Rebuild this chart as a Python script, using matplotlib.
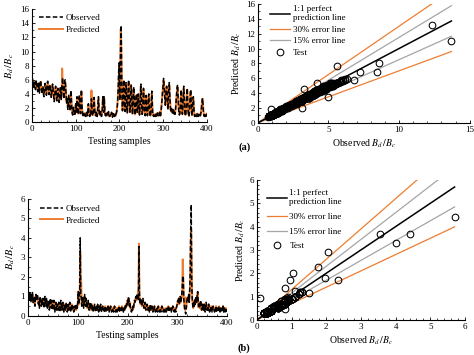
import numpy as np
import matplotlib
matplotlib.use("Agg")
import matplotlib.pyplot as plt
from matplotlib.ticker import MultipleLocator
from matplotlib.lines import Line2D

plt.rcParams['font.family'] = ['Liberation Serif', 'DejaVu Serif']
plt.rcParams['mathtext.fontset'] = 'stix'
plt.rcParams['font.size'] = 6.5

# ---- dataset (a): 400 testing samples ----
obs_a = [
    6.2, 5.8, 5.1, 5.6, 4.9, 5.3, 5.7, 4.6, 5.2, 5.9, 5.4, 4.8, 4.3, 5.0, 5.5, 4.7, 4.1, 5.2, 5.8, 5.9,
    5.3, 4.6, 4.0, 4.4, 5.1, 4.2, 3.6, 4.3, 4.9, 5.5, 5.1, 4.4, 3.8, 4.7, 5.6, 5.8, 5.2, 4.5, 3.9, 4.6,
    5.3, 5.0, 4.2, 3.5, 4.1, 4.8, 5.4, 4.9, 4.0, 3.3, 2.9, 3.8, 4.6, 5.1, 4.4, 3.6, 3.0, 3.9, 4.8, 4.2,
    3.4, 2.8, 3.6, 4.5, 5.0, 4.1, 3.2, 4.8, 5.6, 6.3, 5.2, 4.1, 3.3, 4.6, 5.9, 6.0, 4.8, 3.6, 2.7, 3.5,
    2.6, 1.8, 2.9, 3.8, 3.1, 2.2, 1.6, 3.4, 4.5, 3.2, 2.0, 1.3, 1.0, 1.4, 2.1, 1.7, 1.1, 0.9, 1.5, 2.6,
    2.0, 1.3, 3.6, 2.4, 1.5, 1.1, 2.3, 3.8, 3.2, 1.8, 1.2, 2.9, 4.6, 3.1, 1.6, 1.0, 0.8, 1.2, 1.0, 0.9,
    1.3, 1.1, 0.8, 1.0, 1.4, 1.2, 0.9, 1.7, 2.6, 1.5, 1.0, 0.8, 1.1, 0.9, 1.8, 3.3, 2.0, 1.1, 0.9, 1.2,
    2.4, 3.5, 2.2, 1.3, 0.9, 1.0, 1.4, 1.1, 0.8, 1.6, 2.8, 3.6, 2.1, 1.2, 0.9, 1.1, 1.5, 1.0, 0.8, 1.3,
    2.0, 3.6, 2.7, 1.4, 3.6, 2.3, 1.2, 0.9, 1.1, 0.8, 1.0, 1.3, 0.9, 1.1, 1.5, 1.2, 0.8, 0.9, 1.0, 0.8,
    1.1, 1.4, 1.0, 0.7, 0.9, 1.2, 1.0, 0.8, 0.9, 1.1, 0.8, 1.0, 1.3, 1.6, 2.2, 3.0, 4.5, 6.8, 8.4, 5.3,
    3.1, 8.6, 12.3, 13.7, 7.2, 3.0, 1.6, 2.5, 4.1, 6.0, 4.3, 2.2, 1.5, 3.4, 5.6, 4.2, 2.0, 1.3, 2.8, 4.8,
    6.0, 4.1, 2.3, 1.4, 2.6, 4.2, 5.2, 3.6, 1.8, 1.1, 2.7, 4.6, 5.0, 3.2, 1.6, 1.0, 1.9, 3.5, 4.0, 2.5,
    1.3, 2.4, 4.0, 2.8, 1.5, 1.0, 2.1, 4.1, 5.4, 3.9, 2.0, 1.1, 1.8, 3.2, 4.8, 3.4, 1.6, 1.0, 0.9, 2.2,
    3.8, 2.5, 1.3, 0.9, 1.7, 3.3, 4.0, 2.8, 1.4, 1.0, 0.8, 1.6, 3.1, 4.4, 2.6, 1.2, 0.9, 1.0, 0.8, 1.1,
    0.9, 1.0, 0.8, 1.2, 1.0, 0.9, 1.3, 1.1, 0.8, 0.9, 1.0, 1.4, 1.2, 0.9, 1.5, 2.1, 2.9, 3.8, 4.6, 5.5,
    6.2, 5.3, 4.1, 3.2, 2.4, 3.6, 4.8, 5.1, 3.9, 2.6, 1.8, 3.3, 4.9, 5.6, 4.0, 2.5, 1.7, 1.4, 1.9, 1.6,
    1.3, 1.8, 1.5, 1.2, 1.7, 1.4, 1.1, 1.6, 2.3, 3.4, 4.2, 5.0, 5.3, 3.8, 2.2, 1.3, 1.0, 1.2, 1.8, 3.1,
    4.6, 3.0, 1.7, 1.1, 2.4, 4.0, 5.1, 3.6, 1.8, 1.0, 0.9, 1.3, 2.6, 4.1, 4.8, 3.2, 1.6, 1.0, 0.8, 1.5,
    2.8, 4.0, 4.6, 3.1, 1.5, 0.9, 1.9, 3.3, 3.6, 2.2, 1.2, 0.8, 1.0, 0.9, 1.1, 0.8, 0.9, 1.2, 1.0, 0.8,
    0.9, 1.1, 0.8, 1.0, 0.9, 1.2, 1.6, 2.3, 3.0, 3.4, 2.6, 1.5, 1.0, 0.8, 0.9, 1.1, 0.8, 1.0, 0.9, 1.2,
]
pred_a = [
    5.8, 5.5, 5.3, 5.3, 5.1, 5.0, 5.4, 4.9, 5.0, 5.6, 5.2, 5.0, 4.6, 4.8, 5.2, 4.9, 4.4, 5.0, 5.5, 5.7,
    5.1, 4.8, 4.3, 4.5, 4.9, 4.4, 3.9, 4.2, 4.7, 5.3, 5.2, 4.5, 4.0, 4.6, 5.3, 5.5, 5.3, 4.7, 4.1, 4.5,
    5.1, 4.9, 4.4, 3.7, 4.0, 4.6, 5.2, 5.0, 4.2, 3.5, 3.1, 3.7, 4.4, 4.9, 4.5, 3.8, 3.2, 3.8, 4.6, 4.3,
    3.6, 3.0, 3.5, 4.3, 4.8, 4.3, 3.4, 4.6, 7.6, 5.9, 5.3, 4.3, 3.5, 4.4, 5.6, 5.7, 4.9, 3.8, 2.9, 3.4,
    2.8, 2.0, 2.8, 3.6, 3.2, 2.4, 1.8, 3.3, 4.3, 3.3, 2.2, 1.4, 1.1, 1.5, 2.0, 1.8, 1.2, 1.9, 1.5, 2.5,
    2.1, 1.4, 3.4, 2.5, 1.6, 1.2, 2.2, 3.6, 3.3, 1.9, 1.3, 2.8, 4.3, 2.0, 1.7, 1.1, 0.9, 1.2, 1.1, 1.0,
    1.3, 1.2, 0.9, 1.0, 1.3, 1.2, 1.0, 1.6, 2.5, 1.6, 1.1, 0.9, 1.1, 1.0, 1.9, 4.5, 2.1, 1.2, 1.0, 1.2,
    2.3, 3.3, 2.3, 1.4, 1.0, 1.0, 1.3, 1.1, 0.9, 1.7, 2.7, 3.4, 2.2, 1.3, 1.0, 1.1, 1.4, 1.1, 0.9, 1.3,
    2.1, 3.4, 2.8, 1.5, 3.4, 2.4, 1.3, 1.0, 1.1, 0.9, 1.0, 1.3, 1.0, 1.1, 1.4, 1.2, 0.9, 0.9, 1.0, 0.9,
    1.1, 1.3, 1.0, 0.8, 0.9, 1.2, 1.0, 0.9, 0.9, 1.1, 0.9, 1.0, 1.3, 1.7, 2.3, 3.1, 4.4, 5.8, 6.9, 5.1,
    3.3, 8.0, 13.2, 11.0, 6.8, 3.2, 1.7, 2.6, 4.0, 5.7, 4.4, 2.3, 1.6, 3.3, 5.3, 4.3, 2.1, 1.4, 2.9, 4.6,
    5.6, 4.2, 2.4, 1.5, 2.7, 5.3, 5.0, 3.7, 1.9, 1.2, 2.6, 4.4, 3.5, 3.3, 1.7, 1.1, 2.0, 3.4, 3.8, 2.6,
    1.4, 2.5, 3.8, 2.9, 1.6, 1.1, 2.2, 3.9, 5.1, 4.0, 2.1, 1.2, 1.9, 3.1, 4.6, 3.5, 1.7, 1.1, 1.0, 2.3,
    3.6, 2.6, 1.4, 1.0, 1.8, 3.2, 3.8, 2.9, 1.5, 1.1, 0.9, 1.7, 3.0, 4.1, 2.7, 1.3, 1.0, 1.0, 0.9, 1.1,
    1.0, 1.0, 0.9, 1.2, 1.1, 1.0, 1.3, 1.1, 0.9, 1.0, 1.0, 1.4, 1.2, 1.0, 1.6, 2.2, 3.0, 3.9, 4.5, 5.3,
    5.9, 5.4, 4.2, 3.3, 2.5, 3.5, 4.6, 5.0, 4.0, 2.7, 1.9, 3.2, 4.7, 5.3, 4.1, 2.6, 1.8, 1.5, 1.9, 1.7,
    1.4, 1.7, 1.6, 1.3, 1.6, 1.5, 1.2, 1.6, 2.4, 3.3, 4.0, 4.8, 5.0, 3.9, 2.3, 1.4, 1.1, 1.2, 1.9, 3.0,
    4.4, 3.1, 1.8, 1.2, 2.5, 3.9, 4.8, 3.7, 1.9, 1.1, 1.0, 1.3, 2.7, 4.0, 4.6, 3.3, 1.7, 1.1, 0.9, 1.5,
    2.9, 3.8, 4.4, 3.2, 1.6, 1.0, 2.0, 3.2, 3.4, 2.3, 1.3, 0.9, 1.0, 1.0, 1.1, 0.9, 0.9, 1.2, 1.0, 0.9,
    1.0, 1.1, 0.9, 1.0, 1.0, 1.2, 1.7, 2.4, 3.1, 3.3, 2.7, 1.6, 1.1, 0.9, 1.0, 1.1, 0.9, 1.0, 1.0, 1.2,
]

# ---- dataset (b): 400 testing samples ----
obs_b = [
    0.9, 1.1, 0.8, 1.2, 1.0, 0.7, 1.1, 0.8, 1.2, 0.9, 0.6, 1.0, 0.7, 0.5, 0.9, 1.1, 0.8, 1.1, 1.1, 0.9,
    0.6, 0.8, 0.4, 0.9, 1.0, 0.7, 0.5, 0.8, 0.6, 0.9, 0.7, 0.4, 0.8, 1.0, 0.6, 0.5, 0.9, 0.7, 0.4, 0.6,
    0.8, 0.5, 0.3, 0.7, 0.9, 0.6, 0.4, 0.8, 0.5, 0.3, 0.6, 0.8, 0.4, 0.2, 0.5, 0.7, 0.4, 0.3, 0.6, 0.5,
    0.3, 0.7, 0.4, 0.2, 0.6, 0.8, 0.5, 0.3, 0.5, 0.7, 0.4, 0.2, 0.5, 0.6, 0.3, 0.4, 0.7, 0.5, 0.2, 0.4,
    0.6, 0.3, 0.5, 0.7, 0.4, 0.2, 0.4, 0.6, 0.3, 0.5, 0.4, 0.2, 0.3, 0.5, 0.4, 0.6, 0.3, 0.5, 0.4, 0.7,
    1.25, 0.6, 0.9, 1.3, 4.0, 1.05, 0.95, 0.5, 0.7, 1.0, 0.6, 0.4, 0.8, 1.1, 0.7, 0.5, 0.9, 0.6, 0.4, 0.7,
    0.8, 0.5, 0.3, 0.6, 0.4, 0.7, 0.3, 0.5, 0.6, 0.3, 0.2, 0.5, 0.4, 0.6, 0.3, 0.2, 0.4, 0.5, 0.3, 0.6,
    0.4, 0.2, 0.5, 0.3, 0.4, 0.6, 0.3, 0.2, 0.4, 0.5, 0.3, 0.4, 0.2, 0.3, 0.5, 0.4, 0.2, 0.3, 0.4, 0.3,
    0.5, 0.3, 0.2, 0.4, 0.3, 0.5, 0.4, 0.2, 0.3, 0.4, 0.3, 0.2, 0.4, 0.5, 0.3, 0.2, 0.3, 0.4, 0.2, 0.3,
    0.4, 0.3, 0.5, 0.2, 0.3, 0.4, 0.2, 0.3, 0.5, 0.4, 0.3, 0.2, 0.4, 0.3, 0.5, 0.4, 0.6, 0.5, 0.7, 0.8,
    0.6, 1.0, 0.8, 0.5, 0.7, 0.4, 0.3, 0.2, 0.4, 0.3, 0.5, 0.4, 0.6, 0.8, 0.7, 0.9, 1.0, 0.8, 1.1, 0.9,
    1.1, 0.8, 3.55, 1.2, 0.7, 0.6, 0.9, 0.7, 0.5, 0.8, 0.9, 0.6, 0.4, 0.5, 0.7, 0.4, 0.3, 0.5, 0.6, 0.4,
    0.3, 0.5, 0.4, 0.2, 0.4, 0.6, 0.3, 0.4, 0.5, 0.3, 0.2, 0.4, 0.3, 0.5, 0.4, 0.2, 0.3, 0.4, 0.3, 0.2,
    0.4, 0.5, 0.3, 0.2, 0.3, 0.4, 0.2, 0.3, 0.5, 0.4, 0.3, 0.2, 0.4, 0.3, 0.2, 0.3, 0.4, 0.2, 0.3, 0.4,
    0.3, 0.5, 0.4, 0.2, 0.3, 0.4, 0.3, 0.2, 0.4, 0.3, 0.5, 0.4, 0.3, 0.2, 0.4, 0.3, 0.2, 0.4, 0.5, 0.6,
    0.8, 0.7, 0.9, 0.6, 0.8, 1.0, 0.7, 0.9, 1.1, 1.5, 2.05, 1.95, 0.9, 0.6, 0.3, 0.2, 0.1, 0.4, 0.7, 0.9,
    1.0, 0.8, 1.1, 0.7, 1.3, 2.35, 4.4, 5.7, 1.75, 0.9, 0.6, 0.4, 0.7, 0.5, 0.8, 0.6, 0.9, 1.0, 0.7, 1.1,
    1.25, 0.8, 0.5, 0.7, 0.4, 0.6, 0.8, 0.5, 0.3, 0.6, 0.4, 0.5, 0.3, 0.6, 0.4, 0.2, 0.5, 0.7, 0.4, 0.3,
    0.5, 0.3, 0.6, 0.4, 0.2, 0.4, 0.3, 0.5, 0.4, 0.2, 0.3, 0.5, 0.4, 0.3, 0.2, 0.4, 0.3, 0.5, 0.2, 0.3,
    0.4, 0.2, 0.3, 0.5, 0.3, 0.2, 0.4, 0.3, 0.2, 0.4, 0.3, 0.5, 0.2, 0.3, 0.4, 0.2, 0.3, 0.4, 0.3, 0.2,
]
pred_b = [
    1.0, 1.0, 0.9, 1.1, 0.9, 0.8, 1.0, 0.9, 1.1, 0.8, 0.7, 0.9, 0.8, 0.6, 0.8, 1.0, 0.9, 1.0, 1.0, 0.8,
    0.7, 0.8, 0.5, 0.8, 0.9, 0.7, 0.6, 0.8, 0.7, 0.8, 0.7, 0.5, 0.7, 0.9, 0.6, 0.6, 0.8, 0.7, 0.5, 0.6,
    0.7, 0.5, 0.4, 0.7, 0.8, 0.6, 0.5, 0.7, 0.5, 0.4, 0.6, 0.7, 0.4, 0.3, 0.5, 0.6, 0.4, 0.3, 0.6, 0.5,
    0.4, 0.6, 0.4, 0.3, 0.6, 0.7, 0.5, 0.3, 0.5, 0.6, 0.4, 0.3, 0.5, 0.6, 0.3, 0.4, 0.6, 0.5, 0.3, 0.4,
    0.5, 0.3, 0.5, 0.6, 0.4, 0.3, 0.4, 0.6, 0.3, 0.5, 0.4, 0.3, 0.3, 0.5, 0.4, 0.5, 0.3, 0.5, 0.4, 0.6,
    1.2, 0.6, 0.9, 1.2, 3.3, 2.0, 1.7, 0.6, 0.7, 0.9, 0.6, 0.5, 0.8, 1.0, 0.7, 0.5, 0.8, 0.6, 0.4, 0.7,
    0.7, 0.5, 0.3, 0.6, 0.4, 0.6, 0.3, 0.5, 0.6, 0.3, 0.3, 0.5, 0.4, 0.5, 0.3, 0.3, 0.4, 0.5, 0.3, 0.5,
    0.4, 0.3, 0.5, 0.3, 0.4, 0.5, 0.3, 0.3, 0.4, 0.5, 0.3, 0.4, 0.3, 0.3, 0.5, 0.4, 0.3, 0.3, 0.4, 0.3,
    0.5, 0.3, 0.3, 0.4, 0.3, 0.5, 0.4, 0.3, 0.3, 0.4, 0.3, 0.3, 0.4, 0.5, 0.3, 0.3, 0.3, 0.4, 0.3, 0.3,
    0.4, 0.3, 0.5, 0.3, 0.3, 0.4, 0.3, 0.3, 0.5, 0.4, 0.3, 0.3, 0.4, 0.3, 0.5, 0.4, 0.6, 0.5, 0.7, 0.8,
    0.6, 0.9, 0.8, 0.5, 0.7, 0.4, 0.3, 0.3, 0.4, 0.3, 0.5, 0.4, 0.6, 0.7, 0.7, 0.9, 0.9, 0.8, 1.0, 0.9,
    1.25, 1.35, 3.7, 1.1, 0.7, 0.6, 0.8, 0.7, 0.5, 0.8, 0.8, 0.6, 0.4, 0.5, 0.6, 0.4, 0.3, 0.5, 0.6, 0.4,
    0.3, 0.5, 0.4, 0.3, 0.4, 0.5, 0.3, 0.4, 0.5, 0.3, 0.3, 0.4, 0.3, 0.5, 0.4, 0.3, 0.3, 0.4, 0.3, 0.3,
    0.4, 0.5, 0.3, 0.3, 0.3, 0.4, 0.3, 0.3, 0.5, 0.4, 0.3, 0.3, 0.4, 0.3, 0.3, 0.3, 0.4, 0.3, 0.3, 0.4,
    0.3, 0.5, 0.4, 0.3, 0.3, 0.4, 0.3, 0.3, 0.4, 0.3, 0.5, 0.4, 0.3, 0.3, 0.4, 0.3, 0.3, 0.4, 0.5, 0.6,
    0.8, 0.7, 0.9, 0.6, 0.8, 0.9, 0.7, 0.9, 1.0, 1.15, 2.9, 1.8, 0.9, 0.6, 0.4, 0.3, 0.95, 0.4, 0.7, 0.9,
    0.9, 0.8, 1.0, 0.7, 1.2, 1.7, 3.7, 4.4, 2.25, 0.9, 0.6, 0.4, 0.7, 0.5, 0.8, 0.6, 0.9, 0.9, 0.7, 1.0,
    1.2, 0.45, 0.5, 0.7, 0.4, 0.6, 0.7, 0.5, 0.3, 0.6, 0.4, 0.5, 0.3, 0.6, 0.4, 0.3, 0.5, 0.6, 0.4, 0.3,
    0.5, 0.3, 0.6, 0.4, 0.3, 0.4, 0.3, 0.5, 0.4, 0.3, 0.3, 0.5, 0.4, 0.3, 0.3, 0.4, 0.3, 0.5, 0.3, 0.3,
    0.4, 0.3, 0.3, 0.5, 0.3, 0.3, 0.4, 0.3, 0.3, 0.4, 0.3, 0.5, 0.3, 0.3, 0.4, 0.3, 0.3, 0.4, 0.3, 0.3,
]

samples = np.arange(1, len(obs_a) + 1)
orange = '#ED7D31'
grey = '#A5A5A5'
ratio_label = r'$B_d\,/B_c$'

fig = plt.figure(figsize=(4.74, 3.55), dpi=100)

ax1 = fig.add_axes([0.0675, 0.656, 0.369, 0.318])
ax2 = fig.add_axes([0.544, 0.654, 0.447, 0.335])
ax3 = fig.add_axes([0.059, 0.110, 0.420, 0.330])
ax4 = fig.add_axes([0.542, 0.099, 0.439, 0.394])


def style(ax):
    for s in ['top', 'right']:
        ax.spines[s].set_visible(False)
    for s in ['left', 'bottom']:
        ax.spines[s].set_linewidth(0.8)
    ax.tick_params(which='both', direction='in', pad=2)
    ax.tick_params(which='major', length=2.5, width=0.6)
    ax.tick_params(which='minor', length=1.5, width=0.5)


def series_panel(ax, obs, pred, ymax, ystep, yminor, leg_anchor):
    ax.plot(samples, pred, color=orange, lw=1.4, label='Predicted', zorder=2)
    ax.plot(samples, obs, color='black', lw=1.1, ls=(0, (3, 1.5)), label='Observed', zorder=3)
    ax.set_xlim(0, 400)
    ax.set_ylim(0, ymax)
    ax.xaxis.set_major_locator(MultipleLocator(100))
    ax.xaxis.set_minor_locator(MultipleLocator(20))
    ax.yaxis.set_major_locator(MultipleLocator(ystep))
    ax.yaxis.set_minor_locator(MultipleLocator(yminor))
    ax.set_xlabel('Testing samples', fontsize=7, labelpad=3)
    ax.set_ylabel(ratio_label, fontsize=7.5, labelpad=3)
    style(ax)
    h, l = ax.get_legend_handles_labels()
    ax.legend(h[::-1], l[::-1], loc='upper left', bbox_to_anchor=leg_anchor, frameon=False,
              fontsize=6.5, handlelength=2.6, handletextpad=0.3, labelspacing=0.35, borderaxespad=0)


def scatter_panel(ax, obs, pred, xmax, ymax, xstep, xminor, ystep, yminor, leg_anchor, spacing):
    obs = np.asarray(obs)
    pred = np.asarray(pred)
    top = obs.max()
    ax.plot([0, top], [0, top], color='black', lw=1.1, zorder=3)
    ax.plot([0, top], [0, 1.3 * top], color=orange, lw=0.9, zorder=2)
    ax.plot([0, top], [0, 0.7 * top], color=orange, lw=0.9, zorder=2)
    ax.plot([0, top], [0, 1.15 * top], color=grey, lw=0.9, zorder=2)
    ax.plot([0, top], [0, 0.85 * top], color=grey, lw=0.9, zorder=2)
    ax.plot(obs, pred, 'o', mfc='none', mec='black', mew=0.75, ms=4.8, zorder=4)
    ax.set_xlim(0, xmax)
    ax.set_ylim(0, ymax)
    ax.xaxis.set_major_locator(MultipleLocator(xstep))
    ax.xaxis.set_minor_locator(MultipleLocator(xminor))
    ax.yaxis.set_major_locator(MultipleLocator(ystep))
    ax.yaxis.set_minor_locator(MultipleLocator(yminor))
    ax.set_xlabel('Observed ' + ratio_label, fontsize=7, labelpad=3)
    ax.set_ylabel('Predicted ' + ratio_label, fontsize=7, labelpad=2)
    style(ax)
    handles = [
        Line2D([], [], color='black', lw=1.1),
        Line2D([], [], color=orange, lw=0.9),
        Line2D([], [], color=grey, lw=0.9),
        Line2D([], [], ls='none', marker='o', mfc='none', mec='black', mew=0.75, ms=4.8),
    ]
    labels = ['1:1 perfect\nprediction line', '30% error line', '15% error line', 'Test']
    ax.legend(handles, labels, loc='upper left', bbox_to_anchor=leg_anchor, frameon=False,
              fontsize=6.5, handlelength=2.2, handletextpad=0.3, labelspacing=spacing,
              borderaxespad=0)


series_panel(ax1, obs_a, pred_a, 16, 2, 1, (0.02, 0.99))
scatter_panel(ax2, obs_a, pred_a, 15, 16, 5, 1, 2, 1, (0.04, 1.02), 0.35)
series_panel(ax3, obs_b, pred_b, 6, 1, 0.5, (0.04, 0.98))
scatter_panel(ax4, obs_b, pred_b, 6, 6, 1, 0.2, 1, 0.2, (0.03, 0.96), 0.7)

fig.text(0.503, 0.585, '(a)', fontsize=7.5, fontweight='bold', ha='left', va='center')
fig.text(0.500, 0.020, '(b)', fontsize=7.5, fontweight='bold', ha='left', va='center')

fig.savefig('out.png', dpi=100)
